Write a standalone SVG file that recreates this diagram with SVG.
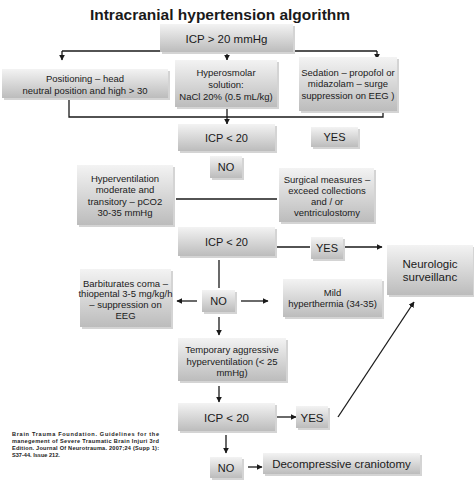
<svg xmlns="http://www.w3.org/2000/svg" width="474" height="481" viewBox="0 0 474 481">
<defs>
<linearGradient id="g" x1="0" y1="0" x2="0" y2="1">
<stop offset="0" stop-color="#f3f3f3"/>
<stop offset="1" stop-color="#bcbcbc"/>
</linearGradient>
<marker id="ah" viewBox="0 0 10 10" refX="9" refY="5" markerWidth="6" markerHeight="6" markerUnits="userSpaceOnUse" orient="auto">
<path d="M0,0 L10,5 L0,10 z" fill="#1a1a1a"/>
</marker>
</defs>
<style>
.b{fill:url(#g);}
.s{fill:#d4d4d4;}
.t{font-family:"Liberation Sans",Arial,sans-serif;font-size:9.5px;fill:#1a1a1a;text-anchor:middle;}
.m{font-size:11px;}
.l{font-size:11.5px;}
.c{stroke:#1a1a1a;stroke-width:1.3;fill:none;}
.a{marker-end:url(#ah);}
.ct{font-family:"Liberation Sans",Arial,sans-serif;font-size:5.6px;font-weight:bold;fill:#1a1a1a;}
</style>
<rect width="474" height="481" fill="#ffffff"/>
<text x="220" y="20" font-family="Liberation Sans,Arial,sans-serif" font-size="15.5" font-weight="bold" text-anchor="middle" fill="#1a1a1a">Intracranial hypertension algorithm</text>

<g id="connectors">
<path class="c" d="M62,51 H377"/>
<path class="c a" d="M62,51 V60"/>
<path class="c a" d="M227,51 V60"/>
<path class="c a" d="M377,51 V59"/>
<path class="c" d="M69,98 V117 H383 V111"/>
<path class="c a" d="M227,107 V124"/>
<path class="c" d="M176,199 H277"/>
<path class="c" d="M276,247 H310"/>
<path class="c a" d="M343,247 H382"/>
<path class="c" d="M219,260 V288"/>
<path class="c a" d="M197,301 H177"/>
<path class="c a" d="M241,301 H268"/>
<path class="c a" d="M219,317 V335"/>
<path class="c a" d="M219,386 V402"/>
<path class="c a" d="M277,417 H296"/>
<path class="c a" d="M226,435 V453"/>
<path class="c a" d="M248,467 H262"/>
<path class="c a" d="M338,417 L414,302"/>
</g>

<g id="n-icp20">
<rect class="s" x="162" y="26" width="133" height="28"/>
<rect class="b" x="160" y="24" width="133" height="28"/>
<text class="t l" x="226.5" y="43">ICP &gt; 20 mmHg</text>
</g>

<g id="n-positioning">
<rect class="s" x="4" y="71" width="166" height="29"/>
<rect class="b" x="2" y="69" width="166" height="29"/>
<text class="t" x="85" y="81.5">Positioning – head</text>
<text class="t" x="85" y="93.5">neutral position and high &gt; 30</text>
</g>

<g id="n-hyperosmolar">
<rect class="s" x="177" y="62" width="102" height="47"/>
<rect class="b" x="175" y="60" width="102" height="47"/>
<text class="t" x="226" y="75.5">Hyperosmolar</text>
<text class="t" x="226" y="87.5">solution:</text>
<text class="t" x="226" y="99.5">NaCl 20% (0.5 mL/kg)</text>
</g>

<g id="n-sedation">
<rect class="s" x="301" y="59" width="98" height="54"/>
<rect class="b" x="299" y="57" width="98" height="54"/>
<text class="t" x="348" y="75.5">Sedation – propofol or</text>
<text class="t" x="348" y="87">midazolam – surge</text>
<text class="t" x="348" y="98.5">suppression on EEG )</text>
</g>

<g id="n-icp-a">
<rect class="s" x="180" y="126" width="97" height="27"/>
<rect class="b" x="178" y="124" width="97" height="27"/>
<text class="t m" x="226.5" y="142">ICP &lt; 20</text>
</g>

<g id="n-yes-a">
<rect class="s" x="313" y="129" width="47" height="20"/>
<rect class="b" x="311" y="127" width="47" height="20"/>
<text class="t m" x="334.5" y="141">YES</text>
</g>

<g id="n-no-a">
<rect class="s" x="212" y="158" width="32" height="22"/>
<rect class="b" x="210" y="156" width="32" height="22"/>
<text class="t m" x="226" y="171">NO</text>
</g>

<g id="n-hyperventilation">
<rect class="s" x="79" y="167" width="96" height="60"/>
<rect class="b" x="77" y="165" width="96" height="60"/>
<text class="t" x="125" y="181.5">Hyperventilation</text>
<text class="t" x="125" y="193">moderate and</text>
<text class="t" x="125" y="204.5">transitory – pCO2</text>
<text class="t" x="125" y="215.5">30-35 mmHg</text>
</g>

<g id="n-surgical">
<rect class="s" x="281" y="170" width="95" height="54"/>
<rect class="b" x="279" y="168" width="95" height="54"/>
<text class="t" x="327" y="182.5">Surgical measures –</text>
<text class="t" x="327" y="193.5">exceed collections</text>
<text class="t" x="327" y="204.5">and / or</text>
<text class="t" x="327" y="215.5">ventriculostomy</text>
</g>

<g id="n-icp-b">
<rect class="s" x="180" y="229" width="97" height="29"/>
<rect class="b" x="178" y="227" width="97" height="29"/>
<text class="t m" x="226.5" y="246">ICP &lt; 20</text>
</g>

<g id="n-yes-b">
<rect class="s" x="313" y="239" width="32" height="22"/>
<rect class="b" x="311" y="237" width="32" height="22"/>
<text class="t m" x="327" y="252">YES</text>
</g>

<g id="n-neurologic">
<rect class="s" x="389" y="247" width="86" height="50"/>
<rect class="b" x="387" y="245" width="86" height="50"/>
<text class="t l" x="430" y="268">Neurologic</text>
<text class="t l" x="430" y="281">surveillanc</text>
</g>

<g id="n-no-b">
<rect class="s" x="204" y="292" width="33" height="22"/>
<rect class="b" x="202" y="290" width="33" height="22"/>
<text class="t m" x="218.5" y="305">NO</text>
</g>

<g id="n-barbiturates">
<rect class="s" x="82" y="271" width="91" height="58"/>
<rect class="b" x="80" y="269" width="91" height="58"/>
<text class="t" x="125.5" y="286.5">Barbiturates coma –</text>
<text class="t" x="125.5" y="297">thiopental 3-5 mg/kg/h</text>
<text class="t" x="125.5" y="307.5">– suppression on</text>
<text class="t" x="125.5" y="318.5">EEG</text>
</g>

<g id="n-hyperthermia">
<rect class="s" x="285" y="281" width="99" height="38"/>
<rect class="b" x="283" y="279" width="99" height="38"/>
<text class="t" x="332.5" y="295.5">Mild</text>
<text class="t" x="332.5" y="306.5">hyperthermia (34-35)</text>
</g>

<g id="n-temporary">
<rect class="s" x="180" y="340" width="108" height="43"/>
<rect class="b" x="178" y="338" width="108" height="43"/>
<text class="t" x="232" y="352.5">Temporary aggressive</text>
<text class="t" x="232" y="364.5">hyperventilation (&lt; 25</text>
<text class="t" x="232" y="376">mmHg)</text>
</g>

<g id="n-icp-c">
<rect class="s" x="180" y="405" width="97" height="28"/>
<rect class="b" x="178" y="403" width="97" height="28"/>
<text class="t l" x="226.5" y="421.5">ICP &lt; 20</text>
</g>

<g id="n-yes-c">
<rect class="s" x="298" y="408" width="32" height="22"/>
<rect class="b" x="296" y="406" width="32" height="22"/>
<text class="t l" x="312" y="421.5">YES</text>
</g>

<g id="n-no-c">
<rect class="s" x="212" y="459" width="32" height="21"/>
<rect class="b" x="210" y="457" width="32" height="21"/>
<text class="t m" x="226" y="471.5">NO</text>
</g>

<g id="n-decompressive">
<rect class="s" x="265" y="455" width="157" height="21"/>
<rect class="b" x="263" y="453" width="157" height="21"/>
<text class="t l" x="341.5" y="467.5">Decompressive craniotomy</text>
</g>

<g id="citation">
<text class="ct" x="12" y="435.5" textLength="147" lengthAdjust="spacing">Brain Trauma Foundation. Guidelines for the</text>
<text class="ct" x="12" y="442.5" textLength="147" lengthAdjust="spacing">manegement of Severe Traumatic Brain Injuri 3rd</text>
<text class="ct" x="12" y="449.5" textLength="147" lengthAdjust="spacing">Edition. Journal Of Neurotrauma. 2007;24 (Supp 1):</text>
<text class="ct" x="12" y="456.5">S37-44. Issue 212.</text>
</g>
</svg>
